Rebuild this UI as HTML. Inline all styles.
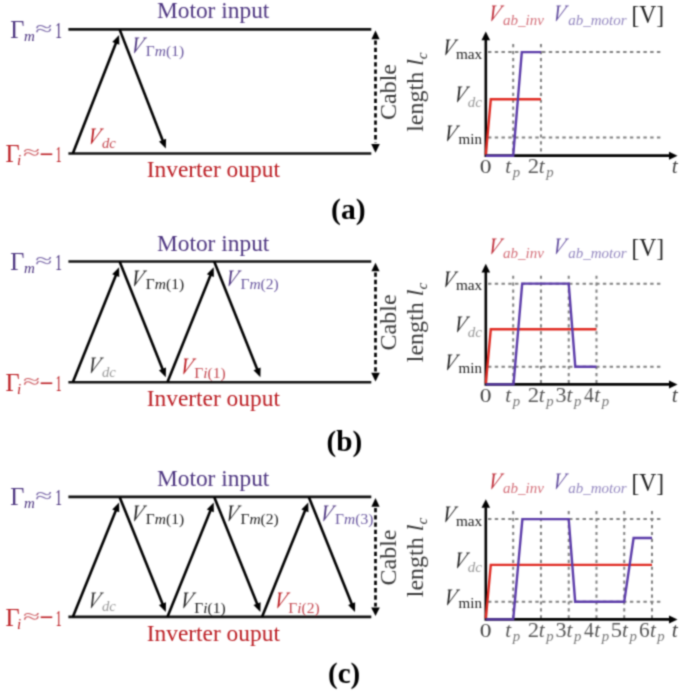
<!DOCTYPE html>
<html><head><meta charset="utf-8"><style>
html,body{margin:0;padding:0;background:#fff;width:685px;height:691px;overflow:hidden}
svg{display:block}
text{font-family:"Liberation Serif","Times New Roman",serif;font-kerning:none}
</style></head><body>
<svg width="685" height="691" viewBox="0 0 685 691">
<defs><filter id="soft" filterUnits="userSpaceOnUse" x="0" y="0" width="685" height="691" color-interpolation-filters="sRGB"><feConvolveMatrix order="5" kernelMatrix="0.00009 0.00198 0.00548 0.00198 0.00009 0.00198 0.04220 0.11707 0.04220 0.00198 0.00548 0.11707 0.32480 0.11707 0.00548 0.00198 0.04220 0.11707 0.04220 0.00198 0.00009 0.00198 0.00548 0.00198 0.00009" divisor="1" edgeMode="duplicate" preserveAlpha="false"/></filter></defs>
<g filter="url(#soft)">
<rect width="685" height="691" fill="#fff"/>
<text x="10.30" y="37.75" font-size="24.40" fill="#4d3580">Γ</text>
<text x="24.06" y="40.65" font-size="15.00" fill="#4d3580" font-style="italic">m</text>
<text transform="translate(35.33,34.82) scale(1.5941,1)" font-size="19.56" fill="#7a68a8">≈</text>
<text transform="translate(54.95,37.75) scale(0.6088,1)" font-size="23.33" fill="#4d3580">1</text>
<text x="5.50" y="162.20" font-size="24.40" fill="#bb1c22">Γ</text>
<text x="16.97" y="165.10" font-size="15.00" fill="#bb1c22" font-style="italic">i</text>
<text transform="translate(22.94,158.15) scale(1.7814,1)" font-size="17.38" fill="#cc5a60">≈</text>
<text transform="translate(39.16,164.97) scale(0.7760,1)" font-size="32.13" fill="#bb1c22">−</text>
<text transform="translate(55.40,162.20) scale(0.5358,1)" font-size="23.33" fill="#bb1c22">1</text>
<line x1="68.40" y1="29.35" x2="371.30" y2="29.35" stroke="#111" stroke-width="2.6"/>
<line x1="68.40" y1="153.50" x2="371.30" y2="153.50" stroke="#111" stroke-width="2.6"/>
<line x1="375.50" y1="40.40" x2="375.50" y2="143.00" stroke="#000" stroke-width="2.7" stroke-dasharray="4.3 2.985"/>
<polygon points="375.50,30.50 371.40,39.20 379.60,39.20" fill="#000"/>
<polygon points="375.50,152.70 371.20,144.00 379.80,144.00" fill="#000"/>
<text transform="translate(396.4,92.02) rotate(-90)" text-anchor="middle" font-size="24" fill="#383838">Cable</text>
<text transform="translate(423.2,92.02) rotate(-90)" text-anchor="middle" font-size="24" fill="#383838">length <tspan font-style="italic">l</tspan><tspan font-style="italic" font-size="15.5" dy="4">c</tspan></text>
<text x="156.93" y="18.35" font-size="23.40" fill="#4d3580">Motor input</text>
<text x="146.75" y="177.30" font-size="23.40" fill="#bb1c22">Inverter ouput</text>
<line x1="72.80" y1="153.50" x2="116.37" y2="42.04" stroke="#000" stroke-width="2.6"/>
<polygon points="119.10,35.05 119.36,44.82 112.28,42.05" fill="#000"/>
<line x1="119.60" y1="29.35" x2="163.09" y2="141.51" stroke="#000" stroke-width="2.6"/>
<polygon points="165.80,148.50 159.00,141.48 166.09,138.73" fill="#000"/>
<text transform="translate(129.23,53.35) skewX(-16.5) scale(0.8,1)" font-size="23.6" fill="#4d3580" font-style="italic">V</text>
<text x="145.85" y="56.45" font-size="15.50" fill="#6a58a0">Γ<tspan font-style="italic">m</tspan>(1)</text>
<text transform="translate(85.93,144.10) skewX(-16.5) scale(0.8,1)" font-size="23.6" fill="#bb1c22" font-style="italic">V</text>
<text x="101.95" y="147.90" font-size="14.70" fill="#c44850"><tspan font-style="italic">dc</tspan></text>
<text x="331.10" y="218.98" font-size="29.67" fill="#000" font-weight="bold">(a)</text>
<line x1="513.20" y1="44.07" x2="513.20" y2="154.66" stroke="#808080" stroke-width="2.0" stroke-dasharray="3.2 3.75"/>
<line x1="540.96" y1="44.07" x2="540.96" y2="154.66" stroke="#808080" stroke-width="2.0" stroke-dasharray="3.2 3.75"/>
<line x1="488.00" y1="52.07" x2="662.50" y2="52.07" stroke="#808080" stroke-width="2.0" stroke-dasharray="3.4 3.357"/>
<line x1="488.00" y1="137.50" x2="662.50" y2="137.50" stroke="#808080" stroke-width="2.0" stroke-dasharray="3.4 3.357"/>
<line x1="485.80" y1="155.66" x2="670.00" y2="155.66" stroke="#000" stroke-width="2.6"/>
<polygon points="677.50,155.66 669.00,151.66 669.00,159.66" fill="#000"/>
<line x1="485.80" y1="156.96" x2="485.80" y2="39.57" stroke="#000" stroke-width="2.6"/>
<polygon points="485.80,31.57 481.50,40.17 490.10,40.17" fill="#000"/>
<path d="M485.8,154.7 L490.8,99.3 L541.0,99.3" stroke="#e02a22" stroke-width="2.4" fill="none"/>
<path d="M485.8,155.7 L513.2,155.7 L521.8,52.1 L541.0,52.1" stroke="#5a3aa8" stroke-width="2.4" fill="none"/>
<text transform="translate(440.43,55.17) skewX(-16.5) scale(0.8,1)" font-size="23.6" fill="#222222" font-style="italic">V</text>
<text x="455.88" y="58.67" font-size="15.30" fill="#222222">max</text>
<text transform="translate(452.23,102.10) skewX(-16.5) scale(0.8,1)" font-size="23.6" fill="#222222" font-style="italic">V</text>
<text x="467.85" y="106.50" font-size="15.00" fill="#999" font-style="italic">dc</text>
<text transform="translate(442.23,140.50) skewX(-16.5) scale(0.8,1)" font-size="23.6" fill="#222222" font-style="italic">V</text>
<text x="458.59" y="144.00" font-size="15.00" fill="#222222">min</text>
<text transform="translate(479.70,173.17) scale(1.1882,1)" font-size="19.86" fill="#444">0</text>
<text x="505.28" y="173.16" font-size="21.00" fill="#555" font-style="italic">t</text>
<text x="512.67" y="176.76" font-size="14.80" fill="#777" font-style="italic">p</text>
<text transform="translate(527.86,173.16) scale(1.1216,1)" font-size="20.24" fill="#555">2</text>
<text x="538.84" y="173.16" font-size="21.00" fill="#555" font-style="italic">t</text>
<text x="546.33" y="176.76" font-size="14.80" fill="#777" font-style="italic">p</text>
<text x="671.86" y="172.96" font-size="21.50" fill="#444" font-style="italic">t</text>
<text transform="translate(486.43,21.30) skewX(-16.5) scale(0.8,1)" font-size="23.6" fill="#c0303c" font-style="italic">V</text>
<text x="503.05" y="25.30" font-size="15.00" fill="#d4707a"><tspan font-style="italic">ab_inv</tspan></text>
<text transform="translate(550.93,21.30) skewX(-16.5) scale(0.8,1)" font-size="23.6" fill="#6550a0" font-style="italic">V</text>
<text x="568.15" y="25.30" font-size="15.00" fill="#9488c0"><tspan font-style="italic">ab_motor</tspan></text>
<text transform="translate(631.45,23.27) scale(0.9463,1)" font-size="24.89" fill="#222">[V]</text>
<text x="10.30" y="269.90" font-size="24.40" fill="#4d3580">Γ</text>
<text x="24.06" y="272.80" font-size="15.00" fill="#4d3580" font-style="italic">m</text>
<text transform="translate(35.33,266.97) scale(1.5941,1)" font-size="19.56" fill="#7a68a8">≈</text>
<text transform="translate(54.95,269.90) scale(0.6088,1)" font-size="23.33" fill="#4d3580">1</text>
<text x="5.50" y="390.90" font-size="24.40" fill="#bb1c22">Γ</text>
<text x="16.97" y="393.80" font-size="15.00" fill="#bb1c22" font-style="italic">i</text>
<text transform="translate(22.94,386.85) scale(1.7814,1)" font-size="17.38" fill="#cc5a60">≈</text>
<text transform="translate(39.16,393.67) scale(0.7760,1)" font-size="32.13" fill="#bb1c22">−</text>
<text transform="translate(55.40,390.90) scale(0.5358,1)" font-size="23.33" fill="#bb1c22">1</text>
<line x1="68.40" y1="261.50" x2="371.30" y2="261.50" stroke="#111" stroke-width="2.6"/>
<line x1="68.40" y1="382.20" x2="371.30" y2="382.20" stroke="#111" stroke-width="2.6"/>
<line x1="375.50" y1="272.55" x2="375.50" y2="371.70" stroke="#000" stroke-width="2.7" stroke-dasharray="4.3 2.985"/>
<polygon points="375.50,262.65 371.40,271.35 379.60,271.35" fill="#000"/>
<polygon points="375.50,381.40 371.20,372.70 379.80,372.70" fill="#000"/>
<text transform="translate(396.4,322.45) rotate(-90)" text-anchor="middle" font-size="24" fill="#383838">Cable</text>
<text transform="translate(423.2,322.45) rotate(-90)" text-anchor="middle" font-size="24" fill="#383838">length <tspan font-style="italic">l</tspan><tspan font-style="italic" font-size="15.5" dy="4">c</tspan></text>
<text x="156.93" y="250.50" font-size="23.40" fill="#4d3580">Motor input</text>
<text x="146.75" y="406.00" font-size="23.40" fill="#bb1c22">Inverter ouput</text>
<line x1="72.80" y1="382.20" x2="116.30" y2="274.16" stroke="#000" stroke-width="2.6"/>
<polygon points="119.10,267.20 119.26,276.97 112.21,274.13" fill="#000"/>
<line x1="119.60" y1="261.50" x2="163.02" y2="370.23" stroke="#000" stroke-width="2.6"/>
<polygon points="165.80,377.20 158.93,370.25 165.99,367.43" fill="#000"/>
<line x1="167.40" y1="382.20" x2="210.90" y2="274.16" stroke="#000" stroke-width="2.6"/>
<polygon points="213.70,267.20 213.86,276.97 206.81,274.13" fill="#000"/>
<line x1="214.20" y1="261.50" x2="257.62" y2="370.23" stroke="#000" stroke-width="2.6"/>
<polygon points="260.40,377.20 253.53,370.25 260.59,367.43" fill="#000"/>
<text transform="translate(129.23,285.50) skewX(-16.5) scale(0.8,1)" font-size="23.6" fill="#222222" font-style="italic">V</text>
<text x="145.85" y="288.60" font-size="15.50" fill="#222222">Γ<tspan font-style="italic">m</tspan>(1)</text>
<text transform="translate(223.83,285.50) skewX(-16.5) scale(0.8,1)" font-size="23.6" fill="#4d3580" font-style="italic">V</text>
<text x="240.45" y="288.60" font-size="15.50" fill="#6a58a0">Γ<tspan font-style="italic">m</tspan>(2)</text>
<text transform="translate(85.93,372.80) skewX(-16.5) scale(0.8,1)" font-size="23.6" fill="#333" font-style="italic">V</text>
<text x="101.95" y="376.60" font-size="14.70" fill="#999"><tspan font-style="italic">dc</tspan></text>
<text transform="translate(178.43,373.60) skewX(-16.5) scale(0.8,1)" font-size="23.6" fill="#bb1c22" font-style="italic">V</text>
<text x="194.25" y="377.80" font-size="15.50" fill="#c44850">Γ<tspan font-style="italic">i</tspan>(1)</text>
<text x="326.52" y="451.08" font-size="29.23" fill="#000" font-weight="bold">(b)</text>
<line x1="513.20" y1="275.64" x2="513.20" y2="383.40" stroke="#808080" stroke-width="2.0" stroke-dasharray="3.2 3.75"/>
<line x1="540.96" y1="275.64" x2="540.96" y2="383.40" stroke="#808080" stroke-width="2.0" stroke-dasharray="3.2 3.75"/>
<line x1="568.72" y1="275.64" x2="568.72" y2="383.40" stroke="#808080" stroke-width="2.0" stroke-dasharray="3.2 3.75"/>
<line x1="596.48" y1="275.64" x2="596.48" y2="383.40" stroke="#808080" stroke-width="2.0" stroke-dasharray="3.2 3.75"/>
<line x1="488.00" y1="283.64" x2="662.50" y2="283.64" stroke="#808080" stroke-width="2.0" stroke-dasharray="3.4 3.357"/>
<line x1="488.00" y1="366.80" x2="662.50" y2="366.80" stroke="#808080" stroke-width="2.0" stroke-dasharray="3.4 3.357"/>
<line x1="485.80" y1="384.40" x2="670.00" y2="384.40" stroke="#000" stroke-width="2.6"/>
<polygon points="677.50,384.40 669.00,380.40 669.00,388.40" fill="#000"/>
<line x1="485.80" y1="385.70" x2="485.80" y2="271.84" stroke="#000" stroke-width="2.6"/>
<polygon points="485.80,263.84 481.50,272.44 490.10,272.44" fill="#000"/>
<path d="M485.8,383.4 L490.8,329.3 L596.5,329.3" stroke="#e02a22" stroke-width="2.4" fill="none"/>
<path d="M485.8,384.4 L513.5,384.4 L522.2,283.6 L568.7,283.6 L575.3,366.8 L596.5,366.8" stroke="#5a3aa8" stroke-width="2.4" fill="none"/>
<text transform="translate(440.43,286.74) skewX(-16.5) scale(0.8,1)" font-size="23.6" fill="#222222" font-style="italic">V</text>
<text x="455.88" y="290.24" font-size="15.30" fill="#222222">max</text>
<text transform="translate(452.23,332.10) skewX(-16.5) scale(0.8,1)" font-size="23.6" fill="#222222" font-style="italic">V</text>
<text x="467.85" y="336.50" font-size="15.00" fill="#999" font-style="italic">dc</text>
<text transform="translate(442.23,369.80) skewX(-16.5) scale(0.8,1)" font-size="23.6" fill="#222222" font-style="italic">V</text>
<text x="458.59" y="373.30" font-size="15.00" fill="#222222">min</text>
<text transform="translate(479.70,401.91) scale(1.1882,1)" font-size="19.86" fill="#444">0</text>
<text x="505.28" y="401.90" font-size="21.00" fill="#555" font-style="italic">t</text>
<text x="512.67" y="405.50" font-size="14.80" fill="#777" font-style="italic">p</text>
<text transform="translate(527.86,401.90) scale(1.1216,1)" font-size="20.24" fill="#555">2</text>
<text x="538.84" y="401.90" font-size="21.00" fill="#555" font-style="italic">t</text>
<text x="546.33" y="405.50" font-size="14.80" fill="#777" font-style="italic">p</text>
<text transform="translate(555.57,401.71) scale(1.1045,1)" font-size="19.94" fill="#555">3</text>
<text x="566.60" y="401.90" font-size="21.00" fill="#555" font-style="italic">t</text>
<text x="574.09" y="405.50" font-size="14.80" fill="#777" font-style="italic">p</text>
<text transform="translate(584.00,401.90) scale(0.9616,1)" font-size="20.36" fill="#555">4</text>
<text x="594.36" y="401.90" font-size="21.00" fill="#555" font-style="italic">t</text>
<text x="601.85" y="405.50" font-size="14.80" fill="#777" font-style="italic">p</text>
<text x="671.86" y="401.70" font-size="21.50" fill="#444" font-style="italic">t</text>
<text transform="translate(486.43,254.30) skewX(-16.5) scale(0.8,1)" font-size="23.6" fill="#c0303c" font-style="italic">V</text>
<text x="503.05" y="258.30" font-size="15.00" fill="#d4707a"><tspan font-style="italic">ab_inv</tspan></text>
<text transform="translate(550.93,254.30) skewX(-16.5) scale(0.8,1)" font-size="23.6" fill="#6550a0" font-style="italic">V</text>
<text x="568.15" y="258.30" font-size="15.00" fill="#9488c0"><tspan font-style="italic">ab_motor</tspan></text>
<text transform="translate(631.45,256.27) scale(0.9463,1)" font-size="24.89" fill="#222">[V]</text>
<text x="10.30" y="505.30" font-size="24.40" fill="#4d3580">Γ</text>
<text x="24.06" y="508.20" font-size="15.00" fill="#4d3580" font-style="italic">m</text>
<text transform="translate(35.33,502.37) scale(1.5941,1)" font-size="19.56" fill="#7a68a8">≈</text>
<text transform="translate(54.95,505.30) scale(0.6088,1)" font-size="23.33" fill="#4d3580">1</text>
<text x="5.50" y="625.60" font-size="24.40" fill="#bb1c22">Γ</text>
<text x="16.97" y="628.50" font-size="15.00" fill="#bb1c22" font-style="italic">i</text>
<text transform="translate(22.94,621.55) scale(1.7814,1)" font-size="17.38" fill="#cc5a60">≈</text>
<text transform="translate(39.16,628.37) scale(0.7760,1)" font-size="32.13" fill="#bb1c22">−</text>
<text transform="translate(55.40,625.60) scale(0.5358,1)" font-size="23.33" fill="#bb1c22">1</text>
<line x1="68.40" y1="496.90" x2="371.30" y2="496.90" stroke="#111" stroke-width="2.6"/>
<line x1="68.40" y1="616.90" x2="371.30" y2="616.90" stroke="#111" stroke-width="2.6"/>
<line x1="375.50" y1="507.95" x2="375.50" y2="606.40" stroke="#000" stroke-width="2.7" stroke-dasharray="4.3 2.985"/>
<polygon points="375.50,498.05 371.40,506.75 379.60,506.75" fill="#000"/>
<polygon points="375.50,616.10 371.20,607.40 379.80,607.40" fill="#000"/>
<text transform="translate(396.4,557.50) rotate(-90)" text-anchor="middle" font-size="24" fill="#383838">Cable</text>
<text transform="translate(423.2,557.50) rotate(-90)" text-anchor="middle" font-size="24" fill="#383838">length <tspan font-style="italic">l</tspan><tspan font-style="italic" font-size="15.5" dy="4">c</tspan></text>
<text x="156.93" y="485.90" font-size="23.40" fill="#4d3580">Motor input</text>
<text x="146.75" y="640.70" font-size="23.40" fill="#bb1c22">Inverter ouput</text>
<line x1="72.80" y1="616.90" x2="116.28" y2="509.55" stroke="#000" stroke-width="2.6"/>
<polygon points="119.10,502.60 119.24,512.37 112.20,509.51" fill="#000"/>
<line x1="119.60" y1="496.90" x2="163.00" y2="604.94" stroke="#000" stroke-width="2.6"/>
<polygon points="165.80,611.90 158.92,604.97 165.97,602.13" fill="#000"/>
<line x1="167.40" y1="616.90" x2="210.88" y2="509.55" stroke="#000" stroke-width="2.6"/>
<polygon points="213.70,502.60 213.84,512.37 206.80,509.51" fill="#000"/>
<line x1="214.20" y1="496.90" x2="257.60" y2="604.94" stroke="#000" stroke-width="2.6"/>
<polygon points="260.40,611.90 253.52,604.97 260.57,602.13" fill="#000"/>
<line x1="262.00" y1="616.90" x2="305.48" y2="509.55" stroke="#000" stroke-width="2.6"/>
<polygon points="308.30,502.60 308.44,512.37 301.40,509.51" fill="#000"/>
<line x1="308.80" y1="496.90" x2="352.20" y2="604.94" stroke="#000" stroke-width="2.6"/>
<polygon points="355.00,611.90 348.12,604.97 355.17,602.13" fill="#000"/>
<text transform="translate(129.23,520.90) skewX(-16.5) scale(0.8,1)" font-size="23.6" fill="#222222" font-style="italic">V</text>
<text x="145.85" y="524.00" font-size="15.50" fill="#222222">Γ<tspan font-style="italic">m</tspan>(1)</text>
<text transform="translate(223.83,520.90) skewX(-16.5) scale(0.8,1)" font-size="23.6" fill="#222222" font-style="italic">V</text>
<text x="240.45" y="524.00" font-size="15.50" fill="#222222">Γ<tspan font-style="italic">m</tspan>(2)</text>
<text transform="translate(318.43,520.90) skewX(-16.5) scale(0.8,1)" font-size="23.6" fill="#4d3580" font-style="italic">V</text>
<text x="335.05" y="524.00" font-size="15.50" fill="#6a58a0">Γ<tspan font-style="italic">m</tspan>(3)</text>
<text transform="translate(85.93,607.50) skewX(-16.5) scale(0.8,1)" font-size="23.6" fill="#333" font-style="italic">V</text>
<text x="101.95" y="611.30" font-size="14.70" fill="#999"><tspan font-style="italic">dc</tspan></text>
<text transform="translate(178.43,608.30) skewX(-16.5) scale(0.8,1)" font-size="23.6" fill="#222222" font-style="italic">V</text>
<text x="194.25" y="612.50" font-size="15.50" fill="#222222">Γ<tspan font-style="italic">i</tspan>(1)</text>
<text transform="translate(272.43,608.30) skewX(-16.5) scale(0.8,1)" font-size="23.6" fill="#bb1c22" font-style="italic">V</text>
<text x="288.25" y="612.50" font-size="15.50" fill="#c44850">Γ<tspan font-style="italic">i</tspan>(2)</text>
<text x="328.03" y="683.33" font-size="29.01" fill="#000" font-weight="bold">(c)</text>
<line x1="513.20" y1="511.07" x2="513.20" y2="618.40" stroke="#808080" stroke-width="2.0" stroke-dasharray="3.2 3.75"/>
<line x1="540.96" y1="511.07" x2="540.96" y2="618.40" stroke="#808080" stroke-width="2.0" stroke-dasharray="3.2 3.75"/>
<line x1="568.72" y1="511.07" x2="568.72" y2="618.40" stroke="#808080" stroke-width="2.0" stroke-dasharray="3.2 3.75"/>
<line x1="596.48" y1="511.07" x2="596.48" y2="618.40" stroke="#808080" stroke-width="2.0" stroke-dasharray="3.2 3.75"/>
<line x1="624.24" y1="511.07" x2="624.24" y2="618.40" stroke="#808080" stroke-width="2.0" stroke-dasharray="3.2 3.75"/>
<line x1="652.00" y1="511.07" x2="652.00" y2="618.40" stroke="#808080" stroke-width="2.0" stroke-dasharray="3.2 3.75"/>
<line x1="488.00" y1="519.07" x2="662.50" y2="519.07" stroke="#808080" stroke-width="2.0" stroke-dasharray="3.4 3.357"/>
<line x1="488.00" y1="601.80" x2="662.50" y2="601.80" stroke="#808080" stroke-width="2.0" stroke-dasharray="3.4 3.357"/>
<line x1="485.80" y1="619.40" x2="670.00" y2="619.40" stroke="#000" stroke-width="2.6"/>
<polygon points="677.50,619.40 669.00,615.40 669.00,623.40" fill="#000"/>
<line x1="485.80" y1="620.70" x2="485.80" y2="507.27" stroke="#000" stroke-width="2.6"/>
<polygon points="485.80,499.27 481.50,507.87 490.10,507.87" fill="#000"/>
<path d="M485.8,618.4 L490.8,564.9 L652.0,564.9" stroke="#e02a22" stroke-width="2.4" fill="none"/>
<path d="M485.8,619.4 L513.2,619.4 L522.4,519.1 L568.7,519.1 L575.2,601.8 L624.2,601.8 L633.6,538.0 L652.0,538.0" stroke="#5a3aa8" stroke-width="2.4" fill="none"/>
<text transform="translate(440.43,522.17) skewX(-16.5) scale(0.8,1)" font-size="23.6" fill="#222222" font-style="italic">V</text>
<text x="455.88" y="525.67" font-size="15.30" fill="#222222">max</text>
<text transform="translate(452.23,567.70) skewX(-16.5) scale(0.8,1)" font-size="23.6" fill="#222222" font-style="italic">V</text>
<text x="467.85" y="572.10" font-size="15.00" fill="#999" font-style="italic">dc</text>
<text transform="translate(442.23,604.80) skewX(-16.5) scale(0.8,1)" font-size="23.6" fill="#222222" font-style="italic">V</text>
<text x="458.59" y="608.30" font-size="15.00" fill="#222222">min</text>
<text transform="translate(479.70,636.91) scale(1.1882,1)" font-size="19.86" fill="#444">0</text>
<text x="505.28" y="636.90" font-size="21.00" fill="#555" font-style="italic">t</text>
<text x="512.67" y="640.50" font-size="14.80" fill="#777" font-style="italic">p</text>
<text transform="translate(527.86,636.90) scale(1.1216,1)" font-size="20.24" fill="#555">2</text>
<text x="538.84" y="636.90" font-size="21.00" fill="#555" font-style="italic">t</text>
<text x="546.33" y="640.50" font-size="14.80" fill="#777" font-style="italic">p</text>
<text transform="translate(555.57,636.71) scale(1.1045,1)" font-size="19.94" fill="#555">3</text>
<text x="566.60" y="636.90" font-size="21.00" fill="#555" font-style="italic">t</text>
<text x="574.09" y="640.50" font-size="14.80" fill="#777" font-style="italic">p</text>
<text transform="translate(584.00,636.90) scale(0.9616,1)" font-size="20.36" fill="#555">4</text>
<text x="594.36" y="636.90" font-size="21.00" fill="#555" font-style="italic">t</text>
<text x="601.85" y="640.50" font-size="14.80" fill="#777" font-style="italic">p</text>
<text transform="translate(610.83,636.70) scale(1.1203,1)" font-size="20.16" fill="#555">5</text>
<text x="622.12" y="636.90" font-size="21.00" fill="#555" font-style="italic">t</text>
<text x="629.61" y="640.50" font-size="14.80" fill="#777" font-style="italic">p</text>
<text transform="translate(638.98,636.71) scale(1.0679,1)" font-size="19.94" fill="#555">6</text>
<text x="649.88" y="636.90" font-size="21.00" fill="#555" font-style="italic">t</text>
<text x="657.37" y="640.50" font-size="14.80" fill="#777" font-style="italic">p</text>
<text x="671.86" y="636.70" font-size="21.50" fill="#444" font-style="italic">t</text>
<text transform="translate(486.43,489.30) skewX(-16.5) scale(0.8,1)" font-size="23.6" fill="#c0303c" font-style="italic">V</text>
<text x="503.05" y="493.30" font-size="15.00" fill="#d4707a"><tspan font-style="italic">ab_inv</tspan></text>
<text transform="translate(550.93,489.30) skewX(-16.5) scale(0.8,1)" font-size="23.6" fill="#6550a0" font-style="italic">V</text>
<text x="568.15" y="493.30" font-size="15.00" fill="#9488c0"><tspan font-style="italic">ab_motor</tspan></text>
<text transform="translate(631.45,491.27) scale(0.9463,1)" font-size="24.89" fill="#222">[V]</text>
</g>
</svg>
</body></html>
